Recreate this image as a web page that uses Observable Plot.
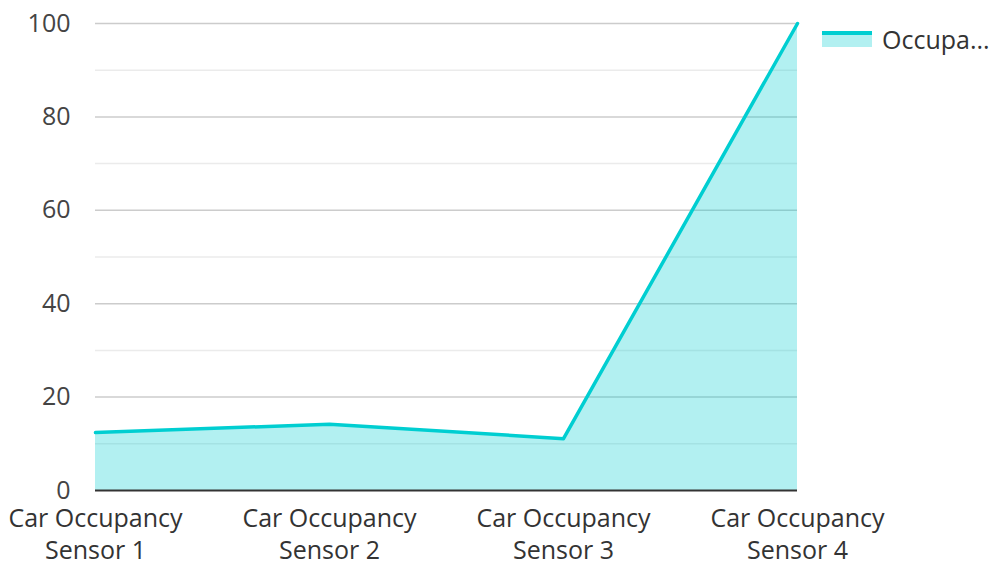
<!DOCTYPE html>
<html>
<head>
<meta charset="utf-8">
<script src="https://cdn.jsdelivr.net/npm/d3@7"></script>
<script src="https://cdn.jsdelivr.net/npm/@observablehq/plot@0.6"></script>
<style>
  html, body { margin: 0; padding: 0; background: #fff; }
  #wrap { position: relative; width: 989px; height: 562px; font-family: "Open Sans", "Noto Sans", sans-serif; }
  #legend { position: absolute; left: 822px; top: 22px; display: flex; align-items: center; font-size: 25px; color: #333; white-space: nowrap; }
  #legend .sw { width: 50px; height: 16px; position: relative; margin-right: 10px; background: rgba(0,206,209,0.3); }
  #legend .sw::before { content: ""; position: absolute; left: 0; right: 0; top: 0; height: 4px; background: #00CED1; }
</style>
</head>
<body>
<div id="wrap"><div id="chart"></div>
<div id="legend"><span class="sw"></span><span>Occupa...</span></div></div>
<script>
const categories = ["Car Occupancy Sensor 1", "Car Occupancy Sensor 2", "Car Occupancy Sensor 3", "Car Occupancy Sensor 4"];
const occupancy = [12.4, 14.2, 11.1, 100];
const yTicks = [0, 20, 40, 60, 80, 100];
const yMinor = [10, 30, 50, 70, 90];

const data = categories.map((c, i) => ({category: c, value: occupancy[i]}));

const chart = Plot.plot({
  width: 989,
  height: 562,
  marginTop: 23,
  marginBottom: 72,
  marginLeft: 95,
  marginRight: 192,
  style: {fontFamily: "'Open Sans', 'Noto Sans', sans-serif", fontSize: "25px", color: "#444", overflow: "visible"},
  x: {type: "point", domain: categories, padding: 0, label: null},
  y: {domain: [0, 100], label: null},
  marks: [
    Plot.ruleY(yMinor, {stroke: "#ebebeb", strokeWidth: 1.5}),
    Plot.ruleY(yTicks.filter(d => d > 0), {stroke: "#cccccc", strokeWidth: 1.5}),
    Plot.areaY(data, {x: "category", y: "value", fill: "#00CED1", fillOpacity: 0.3}),
    Plot.lineY(data, {x: "category", y: "value", stroke: "#00CED1", strokeWidth: 3.5}),
    Plot.ruleY([0], {stroke: "#333", strokeWidth: 2}),
    Plot.axisY({ticks: yTicks, tickSize: 0, tickPadding: 25, fill: "#444", fontSize: 25}),
    Plot.axisX({tickSize: 0, tickPadding: 14, fill: "#333", fontSize: 25,
      tickFormat: d => d.replace(" Sensor", "\nSensor"), lineHeight: 1.28})
  ]
});
document.getElementById("chart").appendChild(chart);
</script>
</body>
</html>
